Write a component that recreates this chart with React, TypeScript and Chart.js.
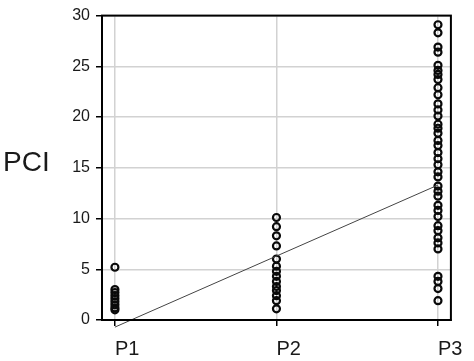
import React, { useEffect, useRef } from 'react';
import { Chart, registerables } from 'chart.js';

Chart.register(...registerables);

const categories = ['P1', 'P2', 'P3'];
const p1Values = [5.2, 3.0, 2.7, 2.4, 2.1, 1.8, 1.5, 1.2, 1.0];
const p2Values = [10.1, 9.2, 8.3, 7.3, 6.0, 5.3, 4.8, 4.3, 3.8, 3.3, 2.9, 2.4, 1.9, 1.1];
const p3Values = [
  29.1, 28.3, 26.9, 26.4, 25.1, 24.6, 24.2, 23.7, 22.9, 22.2, 21.3, 20.7, 20.1, 19.3, 18.9,
  18.4, 17.7, 17.2, 16.5, 15.9, 15.3, 14.6, 14.1, 13.2, 12.7, 12.2, 11.3, 10.8, 10.2, 9.3,
  8.8, 8.1, 7.6, 7.0, 4.3, 3.8, 3.1, 1.9,
];
const fitLineEnds = [-0.7, 13.3]; // fitted value at P1 and at P3
const yTicks = [0, 5, 10, 15, 20, 25, 30];
const yTitle = 'PCI';

const FONT = "'Liberation Sans', Arial, sans-serif";

const boxAndTitle = {
  id: 'boxAndTitle',
  afterDraw(chart: any) {
    const { ctx, chartArea } = chart;
    ctx.save();
    ctx.strokeStyle = '#000';
    ctx.lineWidth = 2;
    ctx.strokeRect(chartArea.left, chartArea.top, chartArea.right - chartArea.left, chartArea.bottom - chartArea.top);
    ctx.fillStyle = '#1a1a1a';
    ctx.font = `28px ${FONT}`;
    ctx.textAlign = 'left';
    ctx.textBaseline = 'middle';
    ctx.fillText(yTitle, 3, 163);
    ctx.restore();
  },
};

export default function App() {
  const ref = useRef<HTMLCanvasElement | null>(null);

  useEffect(() => {
    if (!ref.current) return;
    const groups = [p1Values, p2Values, p3Values];
    const points = groups.flatMap((vals, i) => vals.map((v) => ({ x: i, y: v })));
    const chart = new Chart(ref.current, {
      type: 'scatter',
      data: {
        datasets: [
          {
            type: 'line',
            data: [
              { x: 0, y: fitLineEnds[0] },
              { x: categories.length - 1, y: fitLineEnds[1] },
            ],
            borderColor: '#444',
            borderWidth: 1,
            pointRadius: 0,
            clip: false as any,
          } as any,
          {
            data: points,
            pointRadius: 3.5,
            borderWidth: 2.2,
            borderColor: '#0a0a0a',
            backgroundColor: 'rgba(0,0,0,0)',
          },
        ],
      },
      options: {
        animation: false,
        responsive: false,
        layout: { padding: { top: 6, right: 15, left: 0, bottom: 0 } },
        plugins: { legend: { display: false }, tooltip: { enabled: false } },
        scales: {
          x: {
            type: 'linear',
            min: -0.08,
            max: 2.08,
            afterBuildTicks: (s: any) => {
              s.ticks = categories.map((_, i) => ({ value: i }));
            },
            afterFit: (s: any) => {
              s.height = 41;
            },
            ticks: {
              callback: (v: any) => categories[v as number] ?? '',
              align: 'start',
              padding: 11,
              color: '#1a1a1a',
              font: { family: FONT, size: 20 },
              maxRotation: 0,
            },
            grid: { color: '#d2d2d2', lineWidth: 1.5, tickColor: '#000', tickLength: 6, tickWidth: 1.5 } as any,
            border: { color: '#000', width: 2 },
          },
          y: {
            min: 0,
            max: 30,
            afterBuildTicks: (s: any) => {
              s.ticks = yTicks.map((v) => ({ value: v }));
            },
            afterFit: (s: any) => {
              s.width = 102;
            },
            ticks: {
              padding: 6,
              color: '#1a1a1a',
              font: { family: FONT, size: 16 },
            },
            grid: { color: '#d2d2d2', lineWidth: 1.5, tickColor: '#000', tickLength: 6, tickWidth: 1.5 } as any,
            border: { color: '#000', width: 2 },
          },
        },
      },
      plugins: [boxAndTitle],
    });
    return () => chart.destroy();
  }, []);

  return (
    <div style={{ position: 'absolute', left: 0, top: 0, width: 474, height: 361, background: '#fff' }}>
      <canvas ref={ref} width={474} height={361} />
    </div>
  );
}
